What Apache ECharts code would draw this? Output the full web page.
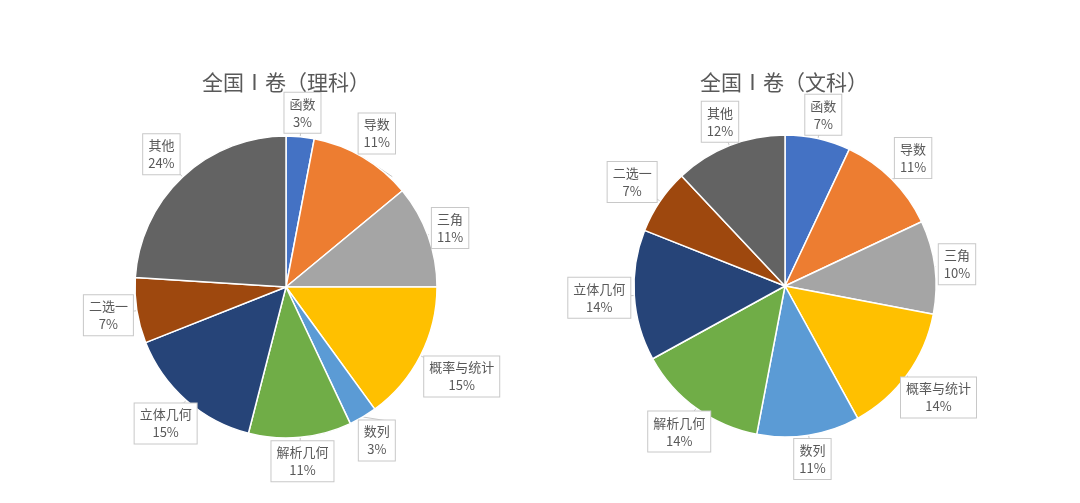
<!DOCTYPE html>
<html><head><meta charset="utf-8">
<script src="https://cdn.jsdelivr.net/npm/echarts@6/dist/echarts.min.js"></script>
<style>html,body{margin:0;padding:0;background:#fff}#c{width:1080px;height:503px}</style>
</head><body><div id="c"></div>
<script>
const categories = ['函数','导数','三角','概率与统计','数列','解析几何','立体几何','二选一','其他'];
const sciValues = [3, 11, 11, 15, 3, 11, 15, 7, 24];
const artValues = [7, 11, 10, 14, 11, 14, 14, 7, 12];
const colors = ['#4472C4','#ED7D31','#A5A5A5','#FFC000','#5B9BD5','#70AD47','#264478','#9E480E','#636363'];
const titles = ['全国Ⅰ卷（理科）','全国Ⅰ卷（文科）'];

const font = '"Noto Sans CJK SC", "Microsoft YaHei", sans-serif';
const R = 151;
const centers = [[286,287],[785,286]];
const allValues = [sciValues, artValues];

function midAngle(vals, idx){
  const total = vals.reduce((a,b)=>a+b,0);
  let cum = 0; for(let i=0;i<idx;i++) cum += vals[i];
  return (cum + vals[idx]/2)/total*2*Math.PI; // from 12 o'clock, clockwise
}

function mk(vals, center){
  return {
    type:'pie', radius:R, center:center, startAngle:90, clockwise:true,
    data: categories.map((n,i)=>({name:n, value:vals[i], itemStyle:{color:colors[i]}})),
    itemStyle:{borderColor:'#fff', borderWidth:1.5},
    label:{show:true, position:'outside', formatter:'{t|{b}}\n{t|{c}%}', color:'#595959', fontSize:13, fontFamily:font,
      rich:{t:{align:'center', color:'#595959', fontSize:13, fontFamily:font, lineHeight:18}},
      backgroundColor:'#fff', borderColor:'#c8c8c8', borderWidth:1, padding:[2,5]},
    labelLine:{show:true, length:4, length2:2, lineStyle:{color:'#c8c8c8', width:1}},
    labelLayout: function(p){
      const s = p.seriesIndex, i = p.dataIndex;
      const a = midAngle(allValues[s], i);
      const ux = Math.sin(a), uy = -Math.cos(a);
      const c = centers[s];
      const ex = c[0] + R*ux, ey = c[1] + R*uy;
      const hw = p.labelRect.width/2, hh = p.labelRect.height/2;
      const d = Math.min(Math.abs(ux)>1e-6 ? hw/Math.abs(ux) : 1e9, Math.abs(uy)>1e-6 ? hh/Math.abs(uy) : 1e9) + 3;
      const cx = ex + ux*d, cy = ey + uy*d;
      return {dx: cx - (p.labelRect.x + hw), dy: cy - (p.labelRect.y + hh)};
    },
    emphasis:{disabled:true}, animation:false
  };
}
const chart = echarts.init(document.getElementById('c'));
chart.setOption({
  backgroundColor:'#fff',
  color: colors,
  title:[
    {text:titles[0], left:281, top:67, textAlign:'center', textStyle:{color:'#595959', fontSize:21, fontWeight:'normal', fontFamily:font}},
    {text:titles[1], left:779, top:67, textAlign:'center', textStyle:{color:'#595959', fontSize:21, fontWeight:'normal', fontFamily:font}}
  ],
  series:[mk(sciValues,centers[0]), mk(artValues,centers[1])]
});
</script></body></html>
